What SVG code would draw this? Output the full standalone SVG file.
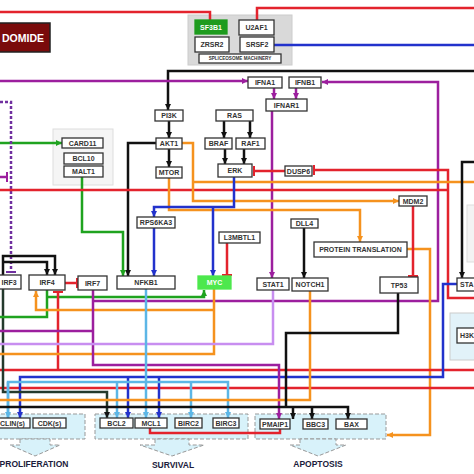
<svg xmlns="http://www.w3.org/2000/svg" width="474" height="474" viewBox="0 0 474 474">
<style>
.n rect{fill:#fff;stroke:#333;stroke-width:1.3}
.n text{font-family:"Liberation Sans",Arial,sans-serif;font-size:7px;font-weight:bold;fill:#333;text-anchor:middle;dominant-baseline:central}
.g{fill:#d8f2fa;stroke:#999;stroke-width:1;stroke-dasharray:4,2}
.c path{fill:none;stroke-width:2.5}
.k{stroke:#111}.r{stroke:#e3232d}.p{stroke:#9c1f9e}.o{stroke:#f5921e}.gr{stroke:#1fa31f}.b{stroke:#2232cc}.lb{stroke:#5cb6e6}.lv{stroke:#c88ef0}.dk{stroke:#243a2c}
.lab{font-family:"Liberation Sans",Arial,sans-serif;font-size:8.5px;font-weight:bold;fill:#1c1c3c;text-anchor:middle}
</style>
<defs>
<marker id="ak" viewBox="0 0 6 6" refX="6" refY="3" markerWidth="6" markerHeight="6" orient="auto" markerUnits="userSpaceOnUse"><path d="M0,0L6,3L0,6z" fill="#111"/></marker>
<marker id="ap" viewBox="0 0 6 6" refX="6" refY="3" markerWidth="6" markerHeight="6" orient="auto" markerUnits="userSpaceOnUse"><path d="M0,0L6,3L0,6z" fill="#9c1f9e"/></marker>
<marker id="ag" viewBox="0 0 6 6" refX="6" refY="3" markerWidth="6" markerHeight="6" orient="auto" markerUnits="userSpaceOnUse"><path d="M0,0L6,3L0,6z" fill="#1fa31f"/></marker>
<marker id="ab" viewBox="0 0 6 6" refX="6" refY="3" markerWidth="6" markerHeight="6" orient="auto" markerUnits="userSpaceOnUse"><path d="M0,0L6,3L0,6z" fill="#2232cc"/></marker>
<marker id="al" viewBox="0 0 6 6" refX="6" refY="3" markerWidth="6" markerHeight="6" orient="auto" markerUnits="userSpaceOnUse"><path d="M0,0L6,3L0,6z" fill="#5cb6e6"/></marker>
<marker id="ao" viewBox="0 0 6 6" refX="6" refY="3" markerWidth="6" markerHeight="6" orient="auto" markerUnits="userSpaceOnUse"><path d="M0,0L6,3L0,6z" fill="#f5921e"/></marker>
<marker id="tr" viewBox="0 0 2 10" refX="2" refY="5" markerWidth="2" markerHeight="10" orient="auto" markerUnits="userSpaceOnUse"><rect width="2" height="10" fill="#e3232d"/></marker>
<marker id="tp" viewBox="0 0 2 10" refX="2" refY="5" markerWidth="2" markerHeight="10" orient="auto" markerUnits="userSpaceOnUse"><rect width="2" height="10" fill="#7030a0"/></marker>
<marker id="tm" viewBox="0 0 2 10" refX="2" refY="5" markerWidth="2" markerHeight="10" orient="auto" markerUnits="userSpaceOnUse"><rect width="2" height="10" fill="#9c1f9e"/></marker>
</defs>
<rect width="474" height="474" fill="#fff"/>

<!-- group backgrounds -->
<rect x="188" y="15" width="104" height="50" fill="#d9d9d9" stroke="#ccc"/>
<rect x="53" y="129" width="60" height="56" fill="#f5f5f5" stroke="#ddd"/>
<rect x="467" y="205" width="12" height="57" fill="#f3f3f3" stroke="#ddd"/>
<rect x="450" y="313" width="30" height="47" fill="#e2f2f9" stroke="#ccc"/>
<g id="grp-prolif"><rect class="g" x="-5" y="414" width="90" height="25"/><path class="g" d="M20,439V445H10L35,456L60,445H50V439z"/></g>
<g id="grp-surv"><rect class="g" x="95" y="414" width="153" height="25"/><path class="g" d="M155,439V445H140L172,456L204,445H189V439z"/></g>
<g id="grp-apop"><rect class="g" x="255" y="414" width="131" height="25"/><path class="g" d="M300,439V445H290L318,456L346,445H336V439z"/></g>

<g class="c">
<path class="r" d="M0,12H210V20"/>
<path class="r" d="M257,20V8H474"/>
<path class="b" d="M274,45H474"/>
<path class="k" d="M474,71H168V110" marker-end="url(#ak)"/>
<path class="p" d="M0,81H248" marker-end="url(#ap)"/>
<path class="p" d="M93,301H438V82H322" marker-end="url(#ap)"/>
<path class="p" d="M274,88V99" marker-end="url(#ap)"/>
<path class="p" d="M296,88V99" marker-end="url(#ap)"/>
<path class="p" d="M272,111V278" marker-end="url(#ap)"/>
<path class="k" d="M169,121V138" marker-end="url(#ak)"/>
<path class="k" d="M169,149V167" marker-end="url(#ak)"/>
<path class="k" d="M224,121V138" marker-end="url(#ak)"/>
<path class="k" d="M250,121V138" marker-end="url(#ak)"/>
<path class="k" d="M225,149V164" marker-end="url(#ak)"/>
<path class="k" d="M244,149V164" marker-end="url(#ak)"/>
<path class="k" d="M156,143H128V276" marker-end="url(#ak)"/>
<path class="gr" d="M0,143H62" marker-end="url(#ag)"/>
<path class="gr" d="M82,177V232H123V276" marker-end="url(#ag)"/>
<path d="M0,102H11V273" stroke="#7030a0" stroke-dasharray="3,2" marker-end="url(#tp)"/>
<path class="p" d="M0,177H8" marker-end="url(#tm)"/>
<path class="r" d="M0,190H448"/>
<path class="r" d="M474,298H448V170H313" marker-end="url(#tr)"/>
<path class="r" d="M285,171H253" marker-end="url(#tr)"/>
<path class="o" d="M182,143H193V201H399" marker-end="url(#ao)"/>
<path class="o" d="M193,182H474"/>
<path class="o" d="M169,178V210H360V242" marker-end="url(#ao)"/>
<path class="o" d="M407,249H430V435H387" marker-end="url(#ao)"/>
<path class="r" d="M413,206V277" marker-end="url(#tr)"/>
<path class="b" d="M234,177V207H154V217" marker-end="url(#ab)"/>
<path class="b" d="M213,207V276" marker-end="url(#ab)"/>
<path class="b" d="M154,228V276" marker-end="url(#ab)"/>
<path class="r" d="M227,243V276" marker-end="url(#tr)"/>
<path class="k" d="M304,228V278" marker-end="url(#ak)"/>
<path class="k" d="M474,162H462V278" marker-end="url(#ak)"/>
<path class="r" d="M0,370H474"/>
<path class="r" d="M0,388H474"/>
<path class="b" d="M457,284H443V377H20V418" marker-end="url(#ab)"/>
<path class="b" d="M128,377V418" marker-end="url(#ab)"/>
<path class="b" d="M159,377V418" marker-end="url(#ab)"/>
<path class="k" d="M3,275V256H55V275" marker-end="url(#ak)"/>
<path class="k" d="M3,262H47V275" marker-end="url(#ak)"/>
<path class="dk" d="M3,289V392H107V418" marker-end="url(#ak)"/>
<path class="r" d="M65,283H78" stroke-width="3" marker-end="url(#tr)"/>
<path class="gr" d="M47,290V317H0"/>
<path class="gr" d="M47,297H204V290" marker-end="url(#ag)"/>
<path class="r" d="M58,370V291" marker-end="url(#tr)"/>
<path class="o" d="M214,289V354H0"/>
<path class="o" d="M214,310H36V291" marker-end="url(#ao)"/>
<path class="p" d="M93,290V365H279V419" marker-end="url(#ap)"/>
<path class="p" d="M93,331H0"/>
<path class="lv" d="M273,290V344H0"/>
<path class="lb" d="M146,289V418" marker-end="url(#al)"/>
<path class="lb" d="M8,418V382H228V418" marker-end="url(#al)"/>
<path class="lb" d="M8,382V418" marker-end="url(#al)"/>
<path class="lb" d="M117,382V418" marker-end="url(#al)"/>
<path class="lb" d="M191,382V418" marker-end="url(#al)"/>
<path class="o" d="M310,291V400H0"/>
<path class="k" d="M398,293V333H286V407"/>
<path class="k" d="M0,407H348V419" marker-end="url(#ak)"/>
<path class="k" d="M293,407V419" marker-end="url(#ak)"/>
<path class="k" d="M312,407V419" marker-end="url(#ak)"/>
<path class="r" d="M150,428V433H280V429"/>
</g>

<g id="lenalidomide"><rect x="-5" y="23" width="55" height="29" fill="#7a0b0b" stroke="#222" stroke-width="1.5"/><text x="44" y="41.5" font-family="Liberation Sans,Arial,sans-serif" font-size="10.5" font-weight="bold" fill="#fff" text-anchor="end">DOMIDE</text></g>
<g id="SF3B1" class="n"><rect x="195" y="20" width="32" height="14" style="fill:#1e9b1e;stroke:#1e9b1e"/><text x="211" y="27" style="fill:#fff">SF3B1</text></g>
<g id="U2AF1" class="n"><rect x="239" y="20" width="35" height="15"/><text x="256.5" y="27.5">U2AF1</text></g>
<g id="ZRSR2" class="n"><rect x="195" y="37" width="34" height="15"/><text x="212" y="44.5">ZRSR2</text></g>
<g id="SRSF2" class="n"><rect x="240" y="37" width="34" height="15"/><text x="257" y="44.5">SRSF2</text></g>
<g id="spliceosome" class="n"><rect x="199" y="54" width="82" height="9"/><text x="240" y="58.5" style="font-size:4.6px">SPLICEOSOME MACHINERY</text></g>
<g id="IFNA1" class="n"><rect x="248" y="77" width="34" height="11"/><text x="265" y="82.5">IFNA1</text></g>
<g id="IFNB1" class="n"><rect x="289" y="77" width="32" height="11"/><text x="305" y="82.5">IFNB1</text></g>
<g id="IFNAR1" class="n"><rect x="266" y="99" width="41" height="12"/><text x="286.5" y="105">IFNAR1</text></g>
<g id="PI3K" class="n"><rect x="155" y="110" width="28" height="11"/><text x="169" y="115.5">PI3K</text></g>
<g id="AKT1" class="n"><rect x="156" y="138" width="26" height="11"/><text x="169" y="143.5">AKT1</text></g>
<g id="MTOR" class="n"><rect x="156" y="167" width="26" height="11"/><text x="169" y="172.5">MTOR</text></g>
<g id="RAS" class="n"><rect x="216" y="110" width="37" height="11"/><text x="234.5" y="115.5">RAS</text></g>
<g id="BRAF" class="n"><rect x="205" y="138" width="27" height="11"/><text x="218.5" y="143.5">BRAF</text></g>
<g id="RAF1" class="n"><rect x="236" y="138" width="29" height="11"/><text x="250.5" y="143.5">RAF1</text></g>
<g id="ERK" class="n"><rect x="218" y="164" width="34" height="13"/><text x="235" y="170.5">ERK</text></g>
<g id="DUSP6" class="n"><rect x="285" y="166" width="27" height="10"/><text x="298.5" y="171">DUSP6</text></g>
<g id="CARD11" class="n"><rect x="62" y="138" width="41" height="10"/><text x="82.5" y="143">CARD11</text></g>
<g id="BCL10" class="n"><rect x="64" y="153" width="39" height="11"/><text x="83.5" y="158.5">BCL10</text></g>
<g id="MALT1" class="n"><rect x="64" y="166" width="39" height="11"/><text x="83.5" y="171.5">MALT1</text></g>
<g id="RPS6KA3" class="n"><rect x="137" y="217" width="38" height="11"/><text x="156" y="222.5">RPS6KA3</text></g>
<g id="L3MBTL1" class="n"><rect x="219" y="232" width="41" height="11"/><text x="239.5" y="237.5">L3MBTL1</text></g>
<g id="DLL4" class="n"><rect x="291" y="219" width="27" height="9"/><text x="304.5" y="223.5">DLL4</text></g>
<g id="MDM2" class="n"><rect x="399" y="196" width="28" height="10"/><text x="413" y="201">MDM2</text></g>
<g id="PROTEIN_TRANSLATION" class="n"><rect x="314" y="242" width="93" height="15"/><text x="360.5" y="249.5">PROTEIN TRANSLATION</text></g>
<g id="IRF3" class="n"><rect x="-12" y="275" width="33" height="14"/><text x="1.5" y="282" style="text-anchor:start">IRF3</text></g>
<g id="IRF4" class="n"><rect x="29" y="275" width="36" height="15"/><text x="47" y="282.5">IRF4</text></g>
<g id="IRF7" class="n"><rect x="78" y="276" width="29" height="14"/><text x="92.5" y="283">IRF7</text></g>
<g id="NFKB1" class="n"><rect x="117" y="276" width="58" height="13"/><text x="146" y="282.5">NFKB1</text></g>
<g id="MYC" class="n"><rect x="198" y="276" width="33" height="13" style="fill:#4de84d;stroke:#4de84d"/><text x="214.5" y="282.5" style="fill:#fff">MYC</text></g>
<g id="STAT1" class="n"><rect x="257" y="278" width="32" height="12"/><text x="273" y="284">STAT1</text></g>
<g id="NOTCH1" class="n"><rect x="292" y="278" width="36" height="13"/><text x="310" y="284.5">NOTCH1</text></g>
<g id="TP53" class="n"><rect x="380" y="277" width="38" height="16"/><text x="399" y="285">TP53</text></g>
<g id="STAT3" class="n"><rect x="457" y="278" width="30" height="13"/><text x="460" y="284.5" style="text-anchor:start">STA</text></g>
<g id="H3K" class="n"><rect x="457" y="328" width="30" height="15"/><text x="460" y="335.5" style="text-anchor:start">H3K</text></g>
<g id="CYCLINs" class="n"><rect x="-5" y="418" width="35" height="10"/><text x="12.5" y="423">CLIN(s)</text></g>
<g id="CDKs" class="n"><rect x="33" y="418" width="33" height="10"/><text x="49.5" y="423">CDK(s)</text></g>
<g id="BCL2" class="n"><rect x="100" y="418" width="33" height="10"/><text x="116.5" y="423">BCL2</text></g>
<g id="MCL1" class="n"><rect x="135" y="418" width="32" height="10"/><text x="151" y="423">MCL1</text></g>
<g id="BIRC2" class="n"><rect x="175" y="418" width="27" height="10"/><text x="188.5" y="423">BIRC2</text></g>
<g id="BIRC3" class="n"><rect x="213" y="418" width="26" height="10"/><text x="226" y="423">BIRC3</text></g>
<g id="PMAIP1" class="n"><rect x="260" y="419" width="30" height="10"/><text x="275" y="424">PMAIP1</text></g>
<g id="BBC3" class="n"><rect x="303" y="419" width="25" height="10"/><text x="315.5" y="424">BBC3</text></g>
<g id="BAX" class="n"><rect x="336" y="419" width="31" height="10"/><text x="351.5" y="424">BAX</text></g>
<text class="lab" x="34" y="467">PROLIFERATION</text>
<text class="lab" x="173" y="468">SURVIVAL</text>
<text class="lab" x="318" y="467">APOPTOSIS</text>
</svg>
